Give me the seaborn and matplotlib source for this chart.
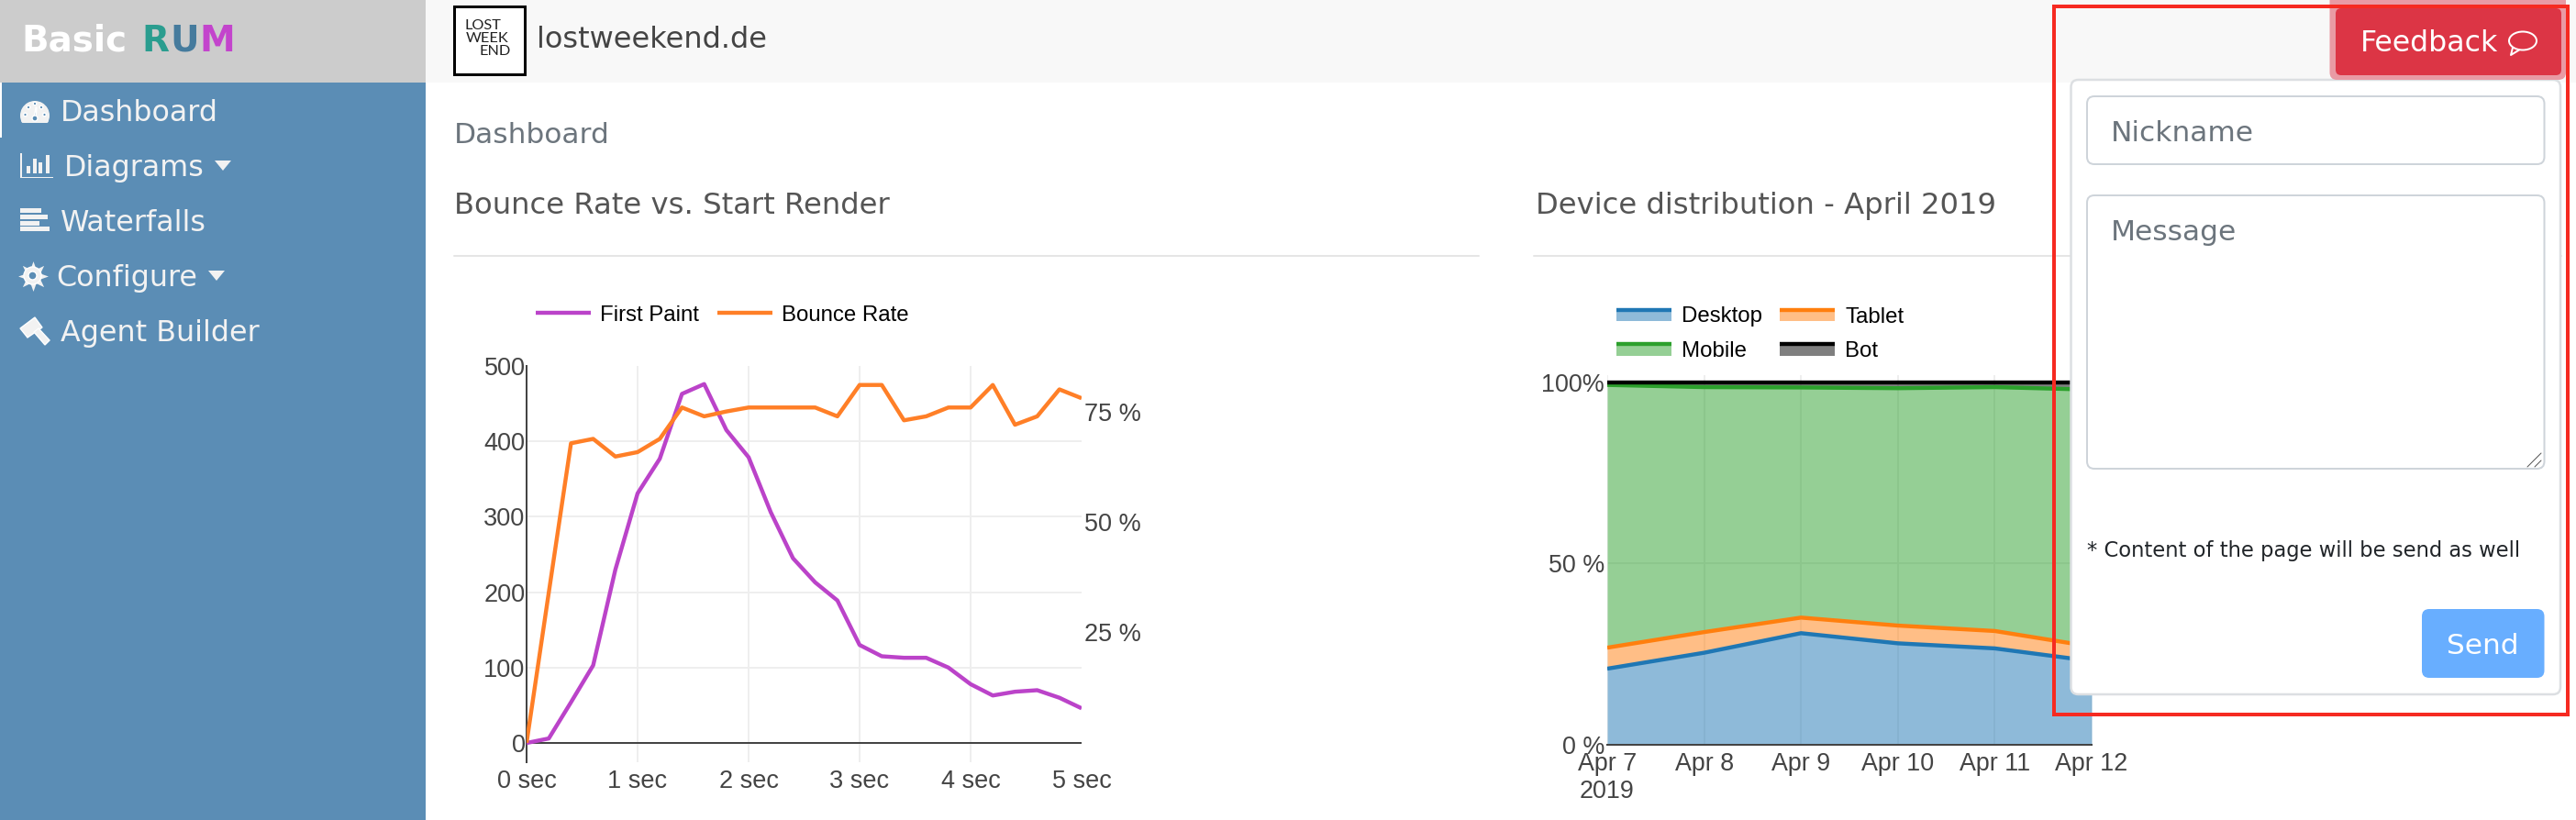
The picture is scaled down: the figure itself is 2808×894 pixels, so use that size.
import numpy as np
import pandas as pd
import matplotlib
matplotlib.use("Agg")
import matplotlib.pyplot as plt
from matplotlib.patches import Rectangle, FancyBboxPatch, Wedge, Circle, Ellipse, Polygon
import seaborn as sns

# first chart
seconds = [0, 0.2, 0.4, 0.6, 0.8, 1.0, 1.2, 1.4, 1.6, 1.8, 2.0, 2.2, 2.4,
           2.6, 2.8, 3.0, 3.2, 3.4, 3.6, 3.8, 4.0, 4.2, 4.4, 4.6, 4.8, 5.0]
first_paint = [0, 6, 54, 103, 230, 331, 377, 463, 476, 415, 379, 306, 245,
               213, 189, 130, 115, 113, 113, 100, 78, 63, 68, 70, 60, 46]
bounce_rate = [0, 34, 67.8, 68.8, 64.8, 65.8, 68.8, 75.9, 73.9, 75.0, 75.9, 75.9, 75.9,
               75.9, 73.9, 81.0, 81.0, 73.0, 73.9, 75.9, 75.9, 81.0, 72.0, 73.9, 80.0, 78.0]
sec_ticks = [0, 1, 2, 3, 4, 5]
sec_labels = ["0 sec", "1 sec", "2 sec", "3 sec", "4 sec", "5 sec"]
count_ticks = [0, 100, 200, 300, 400, 500]
rate_ticks = [25, 50, 75]
rate_labels = ["25 %", "50 %", "75 %"]

# second chart
days = ["2019-04-07", "2019-04-08", "2019-04-09", "2019-04-10", "2019-04-11", "2019-04-12"]
day_labels = ["Apr 7\n2019", "Apr 8", "Apr 9", "Apr 10", "Apr 11", "Apr 12"]
desktop = [21.0, 25.4, 30.8, 28.0, 26.6, 23.1]
tablet = [5.8, 5.7, 4.3, 4.9, 4.8, 4.0]
mobile = [72.5, 67.6, 63.5, 65.5, 67.3, 70.9]
bot = [0.7, 1.3, 1.4, 1.6, 1.3, 2.0]
device_names = ["Desktop", "Tablet", "Mobile", "Bot"]
device_colors = ["#1f77b4", "#ff7f0e", "#2ca02c", "#000000"]
share_ticks = [0, 50, 100]
share_labels = ["0 %", "50 %", "100%"]

# page text
menu_items = ["Dashboard", "Diagrams", "Waterfalls", "Configure", "Agent Builder"]

W, H = 2808, 894
PX = 0.72  # px -> pt at dpi 100
UI_FONT = "DejaVu Sans"
PLOT_FONT = "Liberation Sans"
PURPLE = "#bb43c9"
ORANGE = "#ff7f27"
TICK = "#444444"
GRID = "#eeeeee"
LINE_W = 4.4

sns.set_style("white")
plt.rcParams["font.family"] = [UI_FONT]


def px_axes(fig, x0, y0, x1, y1, z):
    return fig.add_axes([x0 / W, 1 - y1 / H, (x1 - x0) / W, (y1 - y0) / H], zorder=z)


def page_axes(z):
    a = fig.add_axes([0, 0, 1, 1], zorder=z)
    a.set_xlim(0, W)
    a.set_ylim(H, 0)
    a.axis("off")
    a.patch.set_alpha(0)
    return a


def box(a, x0, y0, x1, y1, fc, ec="none", lw=0, r=0, alpha=None, z=2):
    if r:
        p = FancyBboxPatch((x0, y0), x1 - x0, y1 - y0, boxstyle=f"round,pad=0,rounding_size={r}",
                           fc=fc, ec=ec, lw=lw * PX, alpha=alpha, zorder=z)
    else:
        p = Rectangle((x0, y0), x1 - x0, y1 - y0, fc=fc, ec=ec, lw=lw * PX, alpha=alpha, zorder=z)
    a.add_patch(p)
    return p


def label(a, x, y, s, size=22.5, color="#444444", family=UI_FONT, weight="normal", ha="left", z=6):
    a.text(x, y, s, fontsize=size, color=color, family=family, weight=weight,
           ha=ha, va="baseline", zorder=z)


fig = plt.figure(figsize=(W / 100, H / 100), dpi=100, facecolor="white")
bg = page_axes(0)
top = page_axes(5)

# sidebar and top bar
box(bg, 0, 90, 464, H, "#5b8db5")
box(bg, 0, 0, 464, 90, "#cccccc")
box(bg, 0, 90, 2, 150, "#ffffff")
box(bg, 464, 0, W, 90, "#f8f8f8")
label(bg, 23, 56, "Basic", 28, "#ffffff", weight="bold")
for ch, x, col in zip("RUM", [154, 185, 217], ["#2a9d8f", "#457b9d", "#c344cc"]):
    label(bg, x, 56, ch, 28, col, weight="bold")

box(bg, 495, 7, 572, 81, "#ffffff", "#000000", 3)
for s, x, y in zip(["LOST", "WEEK", "END"], [507, 508, 523], [32, 46, 60]):
    label(bg, x, y, s, 11.7, "#222222", family="Lato")
label(bg, 585, 52, "lostweekend.de", 23, "#444444")
label(bg, 495, 156, "Dashboard", 22.5, "#6c757d")
label(bg, 495, 233, "Bounce Rate vs. Start Render", 23.2, "#555555")
label(bg, 1674, 233, "Device distribution - April 2019", 23.2, "#555555")
bg.plot([495, 1612], [279, 279], color="#e5e5e5", lw=2 * PX)
bg.plot([1672, 2792], [279, 279], color="#e5e5e5", lw=2 * PX)

# menu
for s, x, y in zip(menu_items, [66, 70, 66, 61.5, 65.5], [132, 192, 252, 312, 372]):
    label(bg, x, y, s, 22.9, "#f2f2f2")
for x, y in [(234, 175), (227, 295)]:
    bg.add_patch(Polygon([(x, y), (x + 18, y), (x + 9, y + 11)], fc="#f2f2f2", ec="none", zorder=6))

# dashboard icon
bg.add_patch(Wedge((38, 126), 16, 150, 390, fc="#f2f2f2", ec="none", zorder=6))
box(bg, 23.5, 126, 52.5, 134, "#f2f2f2", r=2, z=6)
bg.add_patch(Polygon([(37, 129), (39, 129), (40, 117), (39, 117)], fc="#5b8db5", zorder=7))
bg.add_patch(Circle((38, 129), 3, fc="#5b8db5", zorder=7))
for cx, cy in [(27.5, 125), (31, 117), (38, 113), (45, 117), (48.5, 125)]:
    bg.add_patch(Circle((cx, cy), 1.8, fc="#5b8db5", zorder=7))
# bars icon
box(bg, 22, 167, 23.5, 194, "#f2f2f2", z=6)
box(bg, 22, 192.5, 58, 194, "#f2f2f2", z=6)
for x, y in zip([29, 36, 42, 50], [181, 173, 177, 169]):
    box(bg, x, y, x + 3.5, 189, "#f2f2f2", z=6)
# list icon
for x1, y in zip([45, 52, 43, 54], [227, 234, 241, 247]):
    box(bg, 22, y, x1, y + 4.5, "#f2f2f2", z=6)
# gear icon
bg.scatter([35.5], [300.5], s=560, marker=(8, 1, 0), color="#f2f2f2", linewidths=0, zorder=6)
bg.add_patch(Circle((35.5, 300.5), 9.5, fc="#f2f2f2", zorder=6))
bg.add_patch(Circle((35.5, 300.5), 4.5, fc="#5b8db5", zorder=7))
# gavel icon
bg.add_patch(Polygon([(22, 358), (38, 346), (46, 357), (30, 368)], fc="#f2f2f2", zorder=6))
bg.add_patch(Polygon([(37, 362), (42, 358), (54, 371), (49, 376)], fc="#f2f2f2", zorder=6))

# bounce rate chart
ax = px_axes(fig, 574, 399, 1179, 831, 1)
ax.patch.set_alpha(0)
ax.set_xlim(0, 5)
ax.set_ylim(-25.5, 500)
ax.set_xticks(sec_ticks, sec_labels)
ax.set_yticks(count_ticks)
ax.grid(True, color=GRID, lw=2 * PX)
ax.get_ygridlines()[-1].set_visible(False)
ax.get_xgridlines()[-1].set_visible(False)
ax.set_axisbelow(True)
ax.axhline(0, color=TICK, lw=2 * PX, zorder=1)
sns.despine(ax=ax, top=True, right=True, bottom=True)
ax.spines["left"].set_color(TICK)
ax.spines["left"].set_linewidth(2 * PX)
ax.tick_params(axis="both", length=0, labelsize=19.5, labelcolor=TICK)
ax.tick_params(axis="x", pad=6)
ax.tick_params(axis="y", pad=1)
sns.lineplot(x=seconds, y=first_paint, ax=ax, color=PURPLE, lw=LINE_W * PX, errorbar=None,
             solid_capstyle="butt", zorder=3)
ax.set_xlabel("")
ax.set_ylabel("")

ax_rate = ax.twinx()
ax_rate.set_zorder(1.1)
ax_rate.patch.set_alpha(0)
sns.lineplot(x=seconds, y=bounce_rate, ax=ax_rate, color=ORANGE, lw=LINE_W * PX, errorbar=None,
             solid_capstyle="butt", zorder=4)
ax_rate.set_xlim(0, 5)
ax_rate.set_ylim(-4.4, 85.3)
ax_rate.set_yticks(rate_ticks, rate_labels)
ax_rate.grid(False)
ax_rate.set_ylabel("")
for side in ax_rate.spines:
    ax_rate.spines[side].set_visible(False)
ax_rate.tick_params(axis="y", length=0, labelsize=19.5, labelcolor=TICK, pad=2)
for t in ax.get_xticklabels() + ax.get_yticklabels() + ax_rate.get_yticklabels():
    t.set_family(PLOT_FONT)

# device chart
day_dates = pd.to_datetime(days)
layers = np.cumsum([desktop, tablet, mobile, bot], axis=0)
ax_dev = px_axes(fig, 1752, 409, 2280, 812, 1)
ax_dev.patch.set_alpha(0)
ax_dev.set_xlim(day_dates[0], day_dates[-1])
ax_dev.set_ylim(0, 102)
ax_dev.set_xticks(day_dates, day_labels)
ax_dev.set_yticks(share_ticks, share_labels)
ax_dev.grid(True, color=GRID, lw=2 * PX)
ax_dev.set_axisbelow(True)
sns.despine(ax=ax_dev, top=True, right=True, left=True)
ax_dev.spines["bottom"].set_color(TICK)
ax_dev.spines["bottom"].set_linewidth(2 * PX)
ax_dev.tick_params(axis="both", length=0, labelsize=19.4, labelcolor=TICK)
ax_dev.tick_params(axis="x", pad=6)
ax_dev.tick_params(axis="y", pad=2)
floor = np.zeros(len(days))
for upper, col in zip(layers, device_colors):
    ax_dev.fill_between(day_dates, floor, upper, color=col, alpha=0.5, lw=0, zorder=2)
    sns.lineplot(x=day_dates, y=upper, ax=ax_dev, color=col, lw=LINE_W * PX, errorbar=None,
                 solid_capstyle="butt", zorder=3)
    floor = upper
ax_dev.set_xlabel("")
ax_dev.set_ylabel("")
for t in ax_dev.get_xticklabels() + ax_dev.get_yticklabels():
    t.set_family(PLOT_FONT)

# legends
for s, x0, col in zip(["First Paint", "Bounce Rate"], [584, 782], [PURPLE, ORANGE]):
    bg.plot([x0, x0 + 60], [341, 341], color=col, lw=LINE_W * PX, solid_capstyle="butt", zorder=6)
    label(bg, x0 + 70, 350, s, 17.3, "#000000", PLOT_FONT)
for s, col, (x0, y0) in zip(device_names, device_colors,
                            [(1762, 336), (1940, 336), (1762, 373.5), (1940, 373.5)]):
    box(bg, x0, y0, x0 + 60, y0 + 14, col, alpha=0.5, z=5)
    bg.plot([x0, x0 + 60], [y0 + 1.5, y0 + 1.5], color=col, lw=LINE_W * PX, solid_capstyle="butt", zorder=6)
    label(bg, x0 + 71, y0 + 15.5, s, 17.3, "#000000", PLOT_FONT)

# feedback panel, drawn over the charts
box(top, 2257.5, 87, 2791, 757, "#ffffff", "#dcdfe2", 2.5, r=8, z=2)
box(top, 2539.5, -8, 2797, 87, "#e99aa4", r=8, z=3)
box(top, 2546, 9, 2792, 82, "#dc3545", r=6, z=4)
label(top, 2573, 56, "Feedback", 22.7, "#ffffff")
top.add_patch(Ellipse((2750, 44.5), 30, 20, fc="none", ec="#ffffff", lw=2 * PX, zorder=6))
top.plot([2739, 2737, 2746], [52, 60, 54.5], color="#ffffff", lw=2 * PX, zorder=6)

box(top, 2275, 105, 2773.5, 179, "#ffffff", "#ced4da", 2, r=8, z=5)
label(top, 2301, 154, "Nickname", 22.5, "#6c757d")
box(top, 2275, 213, 2773.5, 511, "#ffffff", "#ced4da", 2, r=8, z=5)
label(top, 2301, 262, "Message", 22.5, "#6c757d")
top.plot([2755, 2770], [509, 494], color="#555555", lw=1 * PX, zorder=6)
top.plot([2763, 2770], [509, 502], color="#555555", lw=1 * PX, zorder=6)
label(top, 2275, 607, "* Content of the page will be send as well", 16.3, "#212529")
box(top, 2640, 664, 2773.5, 739, "#68aeff", r=8, z=5)
label(top, 2706.5, 713, "Send", 22.5, "#ffffff", ha="center")

top.add_patch(Rectangle((2239, 7), 560, 772, fc="none", ec="#f62a21", lw=4 * PX, zorder=8))

fig.savefig("out.png", dpi=100)
